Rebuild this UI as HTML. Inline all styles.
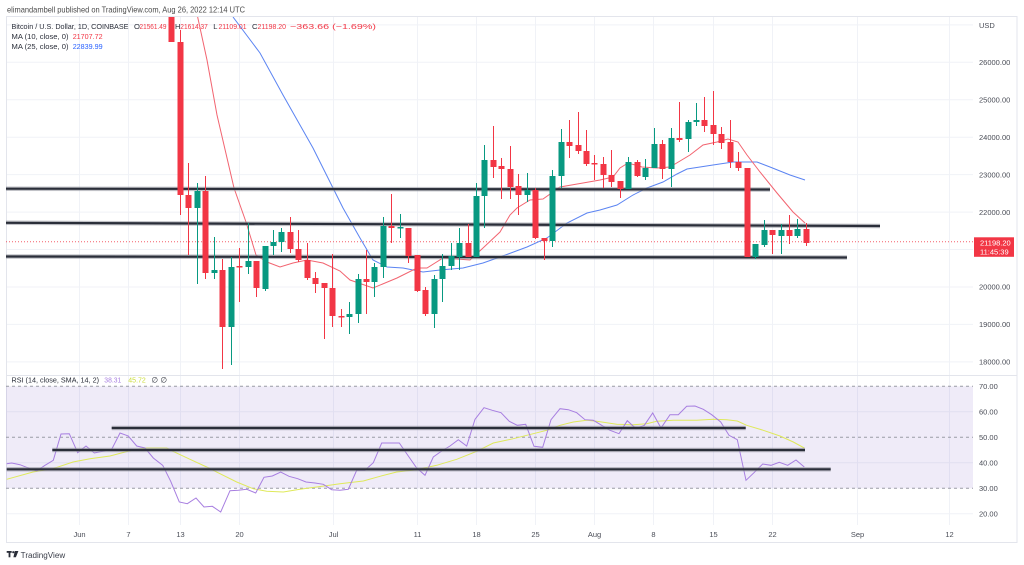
<!DOCTYPE html>
<html><head><meta charset="utf-8"><style>
html,body{margin:0;padding:0;background:#fff;}
svg{display:block;font-family:"Liberation Sans",sans-serif;}
</style></head><body>
<svg width="1024" height="565" viewBox="0 0 1024 565" xmlns="http://www.w3.org/2000/svg">
<defs>
<clipPath id="mainClip"><rect x="6" y="17" width="967" height="357"/></clipPath>
<clipPath id="rsiClip"><rect x="6" y="375" width="967" height="150"/></clipPath>
</defs>
<rect width="1024" height="565" fill="#fff"/>
<!-- header -->
<text x="7" y="12.5" font-size="8.3" fill="#4a4a4a" textLength="238" lengthAdjust="spacingAndGlyphs">elimandambell published on TradingView.com, Aug 26, 2022 12:14 UTC</text>

<!-- grids -->
<g stroke="#f0f2f7" stroke-width="1">
<path d="M6 24.9H973M6 62.3H973M6 99.7H973M6 137.2H973M6 174.6H973M6 212.1H973M6 249.5H973M6 287H973M6 324.4H973M6 361.9H973"/>
<path d="M6 411.7H973M6 462.7H973M6 513.7H973"/>
<path d="M79.5 17V525M128.5 17V525M180.5 17V525M239.5 17V525M333.5 17V525M417.5 17V525M476.5 17V525M535.5 17V525M594.5 17V525M653.5 17V525M713.5 17V525M772.5 17V525M857.5 17V525M949.5 17V525"/>
</g>

<!-- frame -->
<rect x="6.5" y="16.5" width="1010.5" height="526" fill="none" stroke="#e3e5ec" stroke-width="1"/>
<path d="M6 375.5H1017" stroke="#e3e5ec" stroke-width="1"/>

<!-- main pane -->
<g clip-path="url(#mainClip)">
<!-- price dotted line -->
<path d="M6 241.8H973" stroke="#F23645" stroke-width="1" stroke-dasharray="1,2" opacity="0.8"/>
<!-- MA25 blue -->
<polyline fill="none" stroke="#5b84f2" stroke-width="1" points="233,17 260,53 283,95 313,148 333,188 343,208 360,238 373,260 387,267 403,268 423,272 440,270 463,268 483,263 500,257 527,247 547,238 567,223 587,213 600,210 617,205 633,195 647,188 663,182 677,174 687,169 713,165 733,162 757,162 770,167 790,175 805,180"/>
<!-- MA10 red -->
<polyline fill="none" stroke="#f26470" stroke-width="1" points="197,14 207,60 217,115 234,188 246,222 256,255 267,262 280,267 293,263 307,260 323,263 340,271 350,280 373,288 397,278 417,268 427,268 443,258 470,260 483,248 500,232 510,215 517,208 530,200 543,199 560,187 583,183 600,180 613,177 620,168 628,163 642,167 657,168 670,167 690,155 703,145 717,142 728,139 738,142 747,155 760,172 777,193 793,212 805,223"/>
<!-- horizontal drawn lines -->
<g stroke-linecap="butt">
<path d="M5 188.7L770 189.5M5 222.8L880 226M5 256.5L847 257.5" stroke="#8f929b" stroke-width="4.5" opacity="0.55"/>
<path d="M5 188.7L770 189.5M5 222.8L880 226M5 256.5L847 257.5" stroke="#2a2e39" stroke-width="2.2"/>
</g>
<!-- red candles -->
<path stroke="#F23645" stroke-width="1" fill="none" d="M171.5 17V42M180.5 30V215M188.5 163V255M205.5 176V279M222.5 259V369M239.5 248V302M256.5 261V297M290.5 217V253M298.5 230V262M307.5 243V280M315.5 272V293M324.5 283V339M332.5 254V327M341.5 309V327M366.5 250V314M391.5 194V243M408.5 228V263M417.5 255V292M425.5 287V316M468.5 224V257M493.5 126V178M501.5 158V199M510.5 146V199M518.5 174V215M535.5 188V239M544.5 238V260M569.5 120V158M578.5 112V154M586.5 130V166M594.5 155V180M603.5 157V188M611.5 150V187M620.5 181V198M637.5 160V177M662.5 140V179M679.5 102V142M704.5 97V132M713.5 91V145M721.5 127V149M730.5 120V168M738.5 152V171M747.5 168V257M772.5 230V254M789.5 215V244M806.5 223V246"/>
<g fill="#F23645">
<rect x="168.5" y="17" width="6" height="25"/>
<rect x="177.5" y="42" width="6" height="153"/>
<rect x="185.5" y="195" width="6" height="13"/>
<rect x="202.5" y="191" width="6" height="82"/>
<rect x="219.5" y="270" width="6" height="57"/>
<rect x="236.5" y="266" width="6" height="1.5"/>
<rect x="253.5" y="261" width="6" height="27"/>
<rect x="287.5" y="232" width="6" height="17"/>
<rect x="295.5" y="249" width="6" height="11"/>
<rect x="304.5" y="260" width="6" height="18"/>
<rect x="312.5" y="278" width="6" height="6"/>
<rect x="321.5" y="283" width="6" height="5"/>
<rect x="329.5" y="288" width="6" height="28"/>
<rect x="338.5" y="316" width="6" height="1.5"/>
<rect x="363.5" y="279" width="6" height="3"/>
<rect x="388.5" y="226" width="6" height="2"/>
<rect x="405.5" y="228" width="6" height="28"/>
<rect x="414.5" y="255" width="6" height="36"/>
<rect x="422.5" y="290" width="6" height="24"/>
<rect x="465.5" y="243" width="6" height="14"/>
<rect x="490.5" y="160" width="6" height="7"/>
<rect x="498.5" y="166" width="6" height="3"/>
<rect x="507.5" y="169" width="6" height="18"/>
<rect x="515.5" y="186" width="6" height="9"/>
<rect x="532.5" y="190" width="6" height="48"/>
<rect x="541.5" y="238" width="6" height="3"/>
<rect x="566.5" y="142" width="6" height="4"/>
<rect x="575.5" y="145" width="6" height="6"/>
<rect x="583.5" y="151" width="6" height="13"/>
<rect x="591.5" y="163" width="6" height="1.5"/>
<rect x="600.5" y="164" width="6" height="11"/>
<rect x="608.5" y="175" width="6" height="7"/>
<rect x="617.5" y="181" width="6" height="8"/>
<rect x="634.5" y="162" width="6" height="14"/>
<rect x="659.5" y="144" width="6" height="25"/>
<rect x="676.5" y="138" width="6" height="2"/>
<rect x="701.5" y="120" width="6" height="6"/>
<rect x="710.5" y="125" width="6" height="9"/>
<rect x="718.5" y="134" width="6" height="9"/>
<rect x="727.5" y="142" width="6" height="20"/>
<rect x="735.5" y="162" width="6" height="6"/>
<rect x="744.5" y="168" width="6" height="89"/>
<rect x="769.5" y="230" width="6" height="5"/>
<rect x="786.5" y="230" width="6" height="6"/>
<rect x="803.5" y="229" width="6" height="14"/>
</g>
<!-- green candles -->
<path stroke="#089981" stroke-width="1" fill="none" d="M197.5 183V284M214.5 237V279M231.5 257V365M248.5 223V274M265.5 246V291M273.5 230V255M281.5 228V252M349.5 302V334M358.5 274V323M374.5 263V297M383.5 217V278M400.5 214V238M434.5 275V328M442.5 254V302M451.5 243V270M459.5 228V270M476.5 183V257M484.5 145V228M527.5 173V202M552.5 170V247M561.5 129V188M628.5 157V189M645.5 159V180M654.5 128V168M671.5 128V187M688.5 120V152M696.5 103V126M755.5 244V259M764.5 220V247M781.5 224V254M797.5 219V238"/>
<g fill="#089981">
<rect x="194.5" y="191" width="6" height="17"/>
<rect x="211.5" y="270" width="6" height="3"/>
<rect x="228.5" y="267" width="6" height="60"/>
<rect x="245.5" y="261" width="6" height="6"/>
<rect x="262.5" y="246" width="6" height="43"/>
<rect x="270.5" y="242" width="6" height="4"/>
<rect x="278.5" y="232" width="6" height="10"/>
<rect x="346.5" y="314" width="6" height="3"/>
<rect x="355.5" y="279" width="6" height="35"/>
<rect x="371.5" y="267" width="6" height="15"/>
<rect x="380.5" y="226" width="6" height="41"/>
<rect x="397.5" y="227" width="6" height="1.5"/>
<rect x="431.5" y="279" width="6" height="35"/>
<rect x="439.5" y="266" width="6" height="13"/>
<rect x="448.5" y="256" width="6" height="10"/>
<rect x="456.5" y="243" width="6" height="14"/>
<rect x="473.5" y="196" width="6" height="61"/>
<rect x="481.5" y="160" width="6" height="36"/>
<rect x="524.5" y="190" width="6" height="5"/>
<rect x="549.5" y="176" width="6" height="65"/>
<rect x="558.5" y="142" width="6" height="34"/>
<rect x="625.5" y="162" width="6" height="27"/>
<rect x="642.5" y="168" width="6" height="9"/>
<rect x="651.5" y="144" width="6" height="24"/>
<rect x="668.5" y="138" width="6" height="31"/>
<rect x="685.5" y="122" width="6" height="17"/>
<rect x="693.5" y="120" width="6" height="2"/>
<rect x="752.5" y="244" width="6" height="13"/>
<rect x="761.5" y="230" width="6" height="15"/>
<rect x="778.5" y="230" width="6" height="6"/>
<rect x="794.5" y="229" width="6" height="7"/>
</g>
</g>

<!-- legend main -->
<g font-size="7.6">
<text x="11.5" y="28.8" fill="#2a2e39" textLength="117" lengthAdjust="spacingAndGlyphs">Bitcoin / U.S. Dollar, 1D, COINBASE</text>
<text x="134" y="28.8" fill="#2a2e39">O</text><text x="139.5" y="28.8" fill="#F23645" textLength="27" lengthAdjust="spacingAndGlyphs">21561.49</text>
<text x="175" y="28.8" fill="#2a2e39">H</text><text x="180.3" y="28.8" fill="#F23645" textLength="27.5" lengthAdjust="spacingAndGlyphs">21614.37</text>
<text x="213.3" y="28.8" fill="#2a2e39">L</text><text x="218.5" y="28.8" fill="#F23645" textLength="28" lengthAdjust="spacingAndGlyphs">21109.01</text>
<text x="252" y="28.8" fill="#2a2e39">C</text><text x="257.5" y="28.8" fill="#F23645" textLength="28.5" lengthAdjust="spacingAndGlyphs">21198.20</text>
<text x="290" y="28.8" fill="#F23645" textLength="86" lengthAdjust="spacingAndGlyphs">−363.66 (−1.69%)</text>
<text x="11.5" y="39" fill="#2a2e39" textLength="57" lengthAdjust="spacingAndGlyphs">MA (10, close, 0)</text>
<text x="72.7" y="39" fill="#F23645" textLength="30" lengthAdjust="spacingAndGlyphs">21707.72</text>
<text x="11.5" y="49" fill="#2a2e39" textLength="57" lengthAdjust="spacingAndGlyphs">MA (25, close, 0)</text>
<text x="72.7" y="49" fill="#2962FF" textLength="30" lengthAdjust="spacingAndGlyphs">22839.99</text>
</g>

<!-- price axis -->
<g font-size="7.5" fill="#4a4d57">
<text x="979" y="28">USD</text>
<text x="979" y="65">26000.00</text>
<text x="979" y="102.4">25000.00</text>
<text x="979" y="139.9">24000.00</text>
<text x="979" y="177.3">23000.00</text>
<text x="979" y="214.8">22000.00</text>
<text x="979" y="289.7">20000.00</text>
<text x="979" y="327.1">19000.00</text>
<text x="979" y="364.6">18000.00</text>
</g>
<rect x="974" y="237.3" width="40" height="19.5" fill="#F23645"/>
<g font-size="7.5" fill="#fff">
<text x="980" y="245.3">21198.20</text>
<text x="980" y="254.3">11:45:39</text>
</g>

<!-- RSI pane -->
<g clip-path="url(#rsiClip)">
<rect x="6" y="386.3" width="967" height="102" fill="rgba(126,87,194,0.12)"/>
<path d="M6 386.3H973M6 437.3H973M6 488.3H973" stroke="#9a9ca5" stroke-width="1" stroke-dasharray="3,3"/>
<polyline fill="none" stroke="#dfe95a" stroke-width="1" points="6.7,479.3 33,472 53,468.7 73,462 90,458.7 110,456 130,450.7 146.7,448 166.7,448 173,451.3 190,459.3 206.7,467 220,473.7 236.7,482 253,488.7 266.7,491.3 283.3,492 300,489.3 316.7,487 333,484.7 340,483.7 363.3,481 380,476.3 396.7,472 416.7,469.7 436.7,465.3 456.7,459.3 476.7,451.3 493.3,443 513.3,438.7 533.3,433.7 546.7,430.3 560,425.3 573.3,422 586.7,420.3 596.7,421.3 616.7,424.3 633.3,424.7 646.7,423.7 656.7,421.3 673.3,420.3 696.7,420.3 713.3,419.3 726.7,419.7 737.3,421 746.7,425.3 763.3,430.3 780,436 793.3,442 804.3,448"/>
<polyline fill="none" stroke="#a77ee0" stroke-width="1" points="6.7,463.7 11.7,463 20,464.7 30,468.7 36.7,471 45,465.3 53.3,460.3 61,434 69.3,433.7 77.7,452.7 86,446 94.3,453 102.7,451.3 111.7,449.3 120,433 128.3,436 136.7,446 145,448 153.3,458 162.7,465.3 170.7,481.3 179.3,502 187.3,503.7 196,498 204,507 212.3,506.3 220.7,512 230,490.7 238.3,490.3 246.7,489.3 255.7,493 264,477.3 272.3,476 280.7,472 289,476.3 297.7,478.7 306,482 315,483 323.3,484.3 331.7,489.7 340,490.3 348.3,489.3 356.7,470.3 365,470.3 373.3,462.7 381.7,443 390,443 399.3,443 408.3,456 416.7,468 425,475.3 433.3,457 441.7,451 450,446 458.3,439.7 466.7,446 475,419.3 484,407.7 492.3,410.3 501,412.7 509.3,421.3 517.3,425.3 525.7,424.3 534,446.3 542.7,447.3 551,419.7 560,408.7 568.3,409.7 576.7,412.7 585,419.7 593.3,420.3 601.7,425.3 610,430.3 619,433.7 627.3,420.7 636,428.7 644.3,425.3 652.7,413 661,428 670,414.7 678.3,414.7 686.7,406.3 695,406 703.3,409.3 711.7,414.7 720.7,422 729,435.3 737.3,439.7 746,480.3 754,472.7 762.7,464 771,465.3 779.3,462.3 787.7,465.3 796,460 804.3,467"/>
<path d="M111.7 428H745.7M52.3 450H805M6.7 469.3H830.7" stroke="#8f929b" stroke-width="4.5" opacity="0.55"/>
<path d="M111.7 428H745.7M52.3 450H805M6.7 469.3H830.7" stroke="#2a2e39" stroke-width="2.2"/>
</g>
<g font-size="7.6">
<text x="11.5" y="382.5" fill="#2a2e39" textLength="87.5" lengthAdjust="spacingAndGlyphs">RSI (14, close, SMA, 14, 2)</text>
<text x="104.3" y="382.5" fill="#a77ee0" textLength="17" lengthAdjust="spacingAndGlyphs">38.31</text>
<text x="128.3" y="382.5" fill="#cbdc3c" textLength="17.5" lengthAdjust="spacingAndGlyphs">45.72</text>
<text x="151.5" y="382.5" fill="#2a2e39">∅</text>
<text x="160.5" y="382.5" fill="#2a2e39">∅</text>
</g>
<g font-size="7.5" fill="#4a4d57">
<text x="979" y="389">70.00</text>
<text x="979" y="414.4">60.00</text>
<text x="979" y="440">50.00</text>
<text x="979" y="465.4">40.00</text>
<text x="979" y="491">30.00</text>
<text x="979" y="516.4">20.00</text>
</g>

<!-- time axis -->
<g font-size="7.5" fill="#4a4d57" text-anchor="middle">
<text x="79.5" y="537">Jun</text>
<text x="128.5" y="537">7</text>
<text x="180.5" y="537">13</text>
<text x="239.5" y="537">20</text>
<text x="333.5" y="537">Jul</text>
<text x="417.5" y="537">11</text>
<text x="476.5" y="537">18</text>
<text x="535.5" y="537">25</text>
<text x="594.5" y="537">Aug</text>
<text x="653.5" y="537">8</text>
<text x="713.5" y="537">15</text>
<text x="772.5" y="537">22</text>
<text x="857.5" y="537">Sep</text>
<text x="949.5" y="537">12</text>
</g>

<!-- TradingView logo -->
<g fill="#2a2e39">
<rect x="6.7" y="551" width="5" height="1.8"/>
<rect x="8.6" y="551" width="1.8" height="6.3"/>
<circle cx="13.3" cy="552.2" r="1.1"/>
<path d="M14.8 551H18.4L15.9 557.3H13.4Z"/>
</g>
<text x="20.7" y="558" font-size="8" fill="#3a3e49" textLength="44.5" lengthAdjust="spacingAndGlyphs">TradingView</text>
</svg>
</body></html>
